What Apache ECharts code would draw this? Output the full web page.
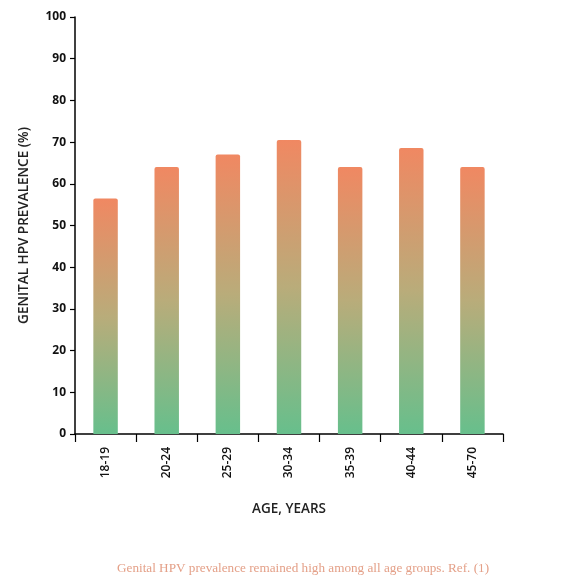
<!DOCTYPE html>
<html>
<head>
<meta charset="utf-8">
<script src="https://cdn.jsdelivr.net/npm/echarts@6/dist/echarts.min.js"></script>
<style>
    html, body { margin: 0; padding: 0; background: #fff; }
    #chart { width: 583px; height: 583px; }
</style>
</head>
<body>
<div id="chart"></div>
<script>
// 年龄组
var ageGroups = ['18-19', '20-24', '25-29', '30-34', '35-39', '40-44', '45-70'];
// 患病率 (%)
var prevalence = [56.5, 64, 67, 70.5, 64, 68.6, 64];

var caption = 'Genital HPV prevalence remained high among all age groups. Ref. (1)';

var myChart = echarts.init(document.getElementById('chart'));

var axisFont = '"Open Sans", "DejaVu Sans", sans-serif';

var option = {
    animation: false,
    title: {
        text: caption,
        left: 112,
        top: 557,
        textStyle: {
            fontFamily: '"Liberation Serif", serif',
            fontSize: 13.2,
            fontWeight: 'normal',
            color: '#e4a088'
        }
    },
    grid: {
        left: 75,
        top: 17,
        right: 80,
        bottom: 149
    },
    xAxis: {
        type: 'category',
        data: ageGroups,
        name: 'AGE, YEARS',
        nameLocation: 'middle',
        nameGap: 68,
        nameTextStyle: {
            fontFamily: axisFont,
            fontSize: 13.5,
            fontWeight: 600,
            color: '#222'
        },
        axisLine: { lineStyle: { color: '#000', width: 1.5 } },
        axisTick: { show: true, alignWithLabel: false, length: 8, lineStyle: { color: '#000', width: 1.2 } },
        axisLabel: {
            rotate: 90,
            margin: 13,
            fontFamily: axisFont,
            fontSize: 12,
            fontWeight: 600,
            color: '#111'
        }
    },
    yAxis: {
        type: 'value',
        min: 0,
        max: 100,
        interval: 10,
        name: 'GENITAL HPV PREVALENCE (%)',
        nameLocation: 'middle',
        nameGap: 44,
        nameTextStyle: {
            fontFamily: axisFont,
            fontSize: 13.5,
            fontWeight: 600,
            color: '#222'
        },
        splitLine: { show: false },
        axisLine: { show: true, lineStyle: { color: '#000', width: 1.5 } },
        axisTick: { show: true, length: 5, lineStyle: { color: '#000', width: 1.2 } },
        axisLabel: {
            margin: 9,
            fontFamily: axisFont,
            fontSize: 12,
            fontWeight: 'bold',
            color: '#111'
        }
    },
    series: [{
        type: 'bar',
        data: prevalence,
        barWidth: '40%',
        itemStyle: {
            borderRadius: [2, 2, 0, 0],
            color: new echarts.graphic.LinearGradient(0, 0, 0, 1, [
                { offset: 0, color: '#f08862' },
                { offset: 0.5, color: '#b9ac7a' },
                { offset: 1, color: '#67bf8c' }
            ])
        }
    }]
};

myChart.setOption(option);
</script>
</body>
</html>
